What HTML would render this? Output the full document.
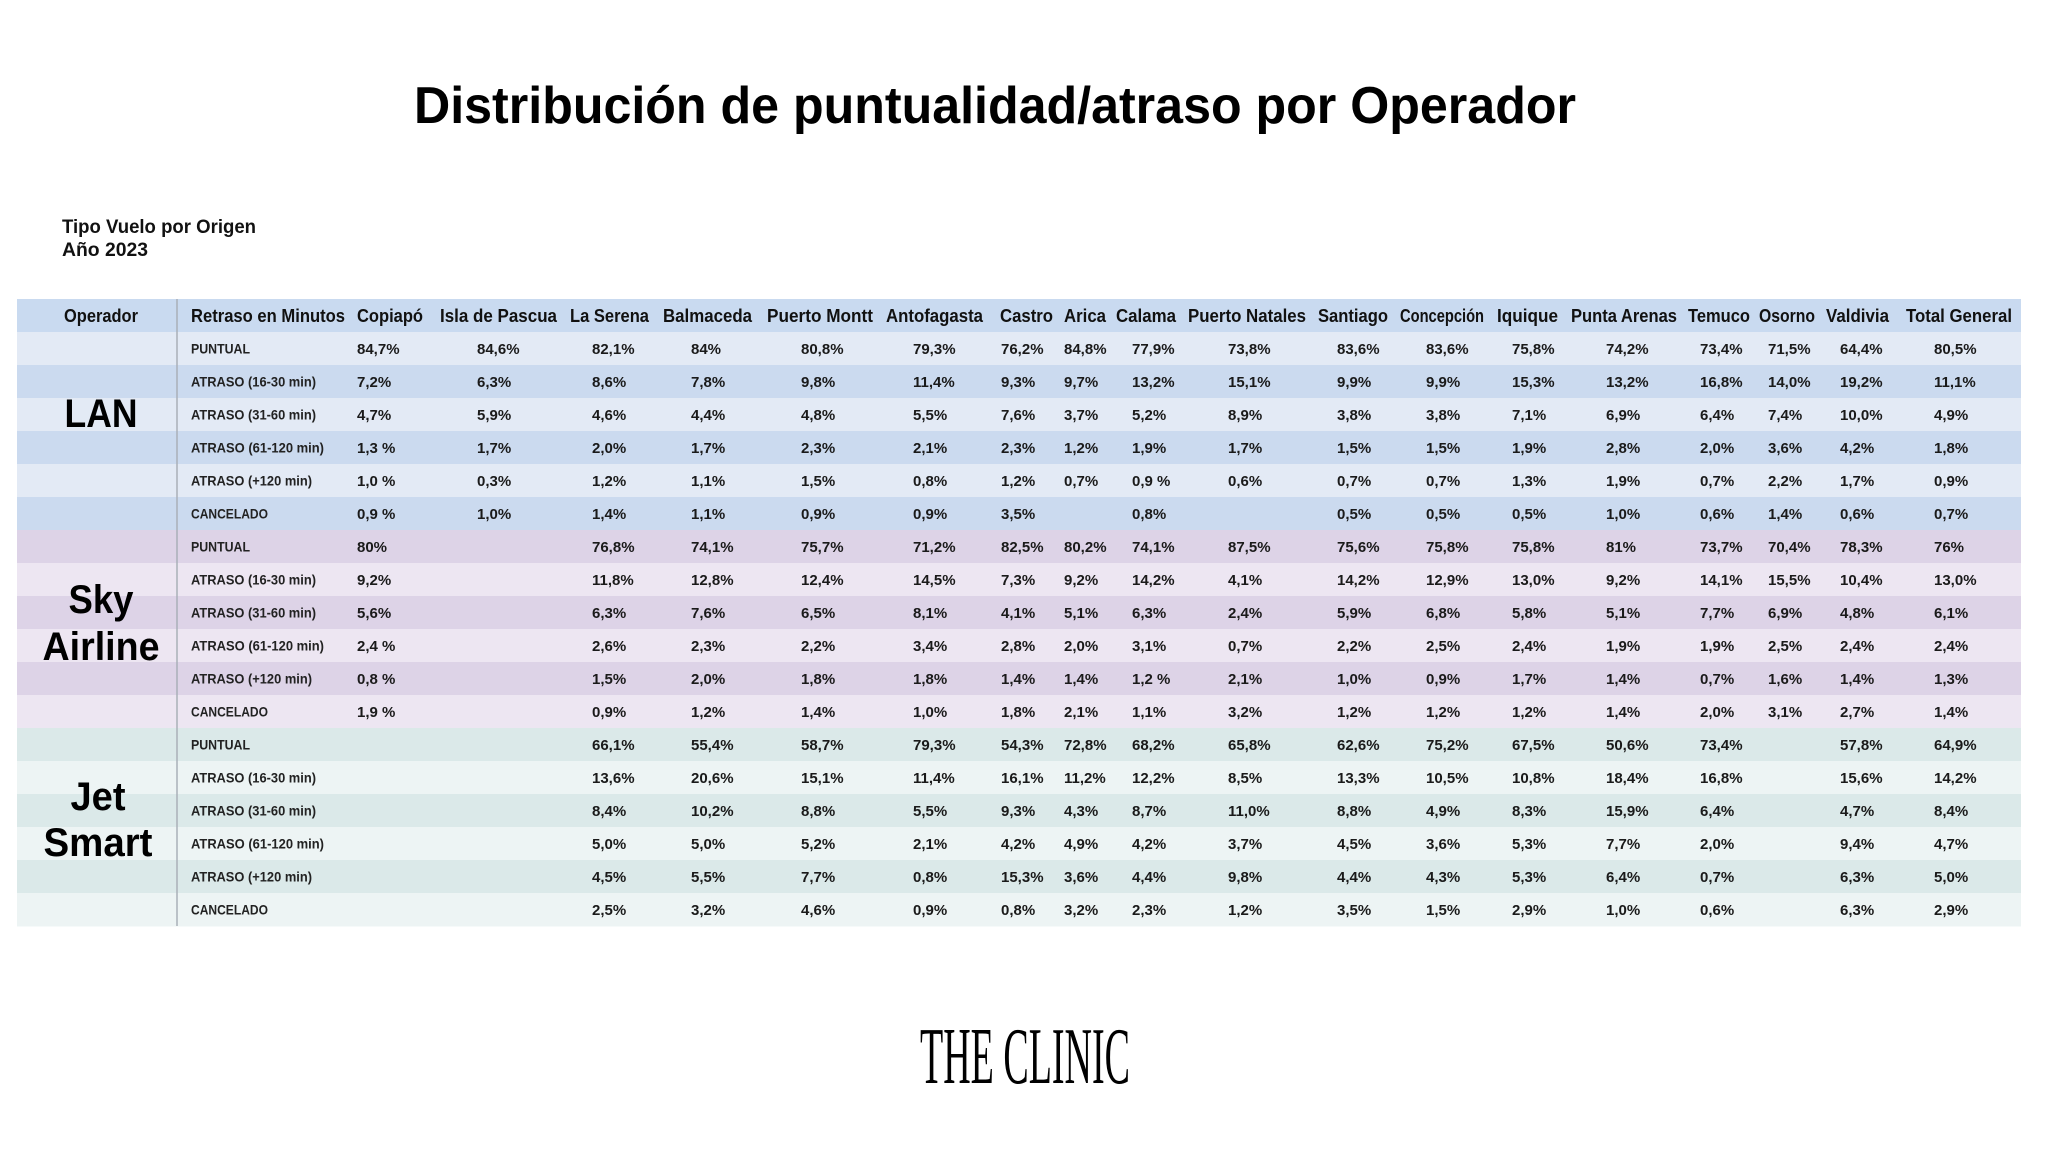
<!DOCTYPE html>
<html><head><meta charset="utf-8"><title>Distribución de puntualidad/atraso por Operador</title>
<style>
html,body{margin:0;padding:0;background:#fff;}
svg{display:block;font-family:"Liberation Sans",sans-serif;}
</style></head>
<body>
<svg id="chart" width="2048" height="1152" viewBox="0 0 2048 1152" xmlns="http://www.w3.org/2000/svg">
<rect x="0" y="0" width="2048" height="1152" fill="#fff"/>
<text x="414" y="123" font-size="52" font-weight="bold" textLength="1162" lengthAdjust="spacingAndGlyphs" fill="#000">Distribución de puntualidad/atraso por Operador</text>
<text x="62" y="233" font-size="19" font-weight="bold" textLength="194" lengthAdjust="spacingAndGlyphs" fill="#111">Tipo Vuelo por Origen</text>
<text x="62" y="256" font-size="19" font-weight="bold" textLength="86" lengthAdjust="spacingAndGlyphs" fill="#111">Año 2023</text>
<g id="table"></g>
<text x="920" y="1083" font-family="Liberation Serif, serif" font-size="80" textLength="210" lengthAdjust="spacingAndGlyphs" fill="#000">THE CLINIC</text>
</svg>
<script>
const columns = ["Copiapó","Isla de Pascua","La Serena","Balmaceda","Puerto Montt","Antofagasta","Castro","Arica","Calama","Puerto Natales","Santiago","Concepción","Iquique","Punta Arenas","Temuco","Osorno","Valdivia","Total General"];
const rowLabels = ["PUNTUAL","ATRASO (16-30 min)","ATRASO (31-60 min)","ATRASO (61-120 min)","ATRASO (+120 min)","CANCELADO"];
const operators = ["LAN","Sky Airline","Jet Smart"];
const lanValues = [
 ["84,7%","84,6%","82,1%","84%","80,8%","79,3%","76,2%","84,8%","77,9%","73,8%","83,6%","83,6%","75,8%","74,2%","73,4%","71,5%","64,4%","80,5%"],
 ["7,2%","6,3%","8,6%","7,8%","9,8%","11,4%","9,3%","9,7%","13,2%","15,1%","9,9%","9,9%","15,3%","13,2%","16,8%","14,0%","19,2%","11,1%"],
 ["4,7%","5,9%","4,6%","4,4%","4,8%","5,5%","7,6%","3,7%","5,2%","8,9%","3,8%","3,8%","7,1%","6,9%","6,4%","7,4%","10,0%","4,9%"],
 ["1,3 %","1,7%","2,0%","1,7%","2,3%","2,1%","2,3%","1,2%","1,9%","1,7%","1,5%","1,5%","1,9%","2,8%","2,0%","3,6%","4,2%","1,8%"],
 ["1,0 %","0,3%","1,2%","1,1%","1,5%","0,8%","1,2%","0,7%","0,9 %","0,6%","0,7%","0,7%","1,3%","1,9%","0,7%","2,2%","1,7%","0,9%"],
 ["0,9 %","1,0%","1,4%","1,1%","0,9%","0,9%","3,5%","","0,8%","","0,5%","0,5%","0,5%","1,0%","0,6%","1,4%","0,6%","0,7%"]
];
const skyValues = [
 ["80%","","76,8%","74,1%","75,7%","71,2%","82,5%","80,2%","74,1%","87,5%","75,6%","75,8%","75,8%","81%","73,7%","70,4%","78,3%","76%"],
 ["9,2%","","11,8%","12,8%","12,4%","14,5%","7,3%","9,2%","14,2%","4,1%","14,2%","12,9%","13,0%","9,2%","14,1%","15,5%","10,4%","13,0%"],
 ["5,6%","","6,3%","7,6%","6,5%","8,1%","4,1%","5,1%","6,3%","2,4%","5,9%","6,8%","5,8%","5,1%","7,7%","6,9%","4,8%","6,1%"],
 ["2,4 %","","2,6%","2,3%","2,2%","3,4%","2,8%","2,0%","3,1%","0,7%","2,2%","2,5%","2,4%","1,9%","1,9%","2,5%","2,4%","2,4%"],
 ["0,8 %","","1,5%","2,0%","1,8%","1,8%","1,4%","1,4%","1,2 %","2,1%","1,0%","0,9%","1,7%","1,4%","0,7%","1,6%","1,4%","1,3%"],
 ["1,9 %","","0,9%","1,2%","1,4%","1,0%","1,8%","2,1%","1,1%","3,2%","1,2%","1,2%","1,2%","1,4%","2,0%","3,1%","2,7%","1,4%"]
];
const jetValues = [
 ["","","66,1%","55,4%","58,7%","79,3%","54,3%","72,8%","68,2%","65,8%","62,6%","75,2%","67,5%","50,6%","73,4%","","57,8%","64,9%"],
 ["","","13,6%","20,6%","15,1%","11,4%","16,1%","11,2%","12,2%","8,5%","13,3%","10,5%","10,8%","18,4%","16,8%","","15,6%","14,2%"],
 ["","","8,4%","10,2%","8,8%","5,5%","9,3%","4,3%","8,7%","11,0%","8,8%","4,9%","8,3%","15,9%","6,4%","","4,7%","8,4%"],
 ["","","5,0%","5,0%","5,2%","2,1%","4,2%","4,9%","4,2%","3,7%","4,5%","3,6%","5,3%","7,7%","2,0%","","9,4%","4,7%"],
 ["","","4,5%","5,5%","7,7%","0,8%","15,3%","3,6%","4,4%","9,8%","4,4%","4,3%","5,3%","6,4%","0,7%","","6,3%","5,0%"],
 ["","","2,5%","3,2%","4,6%","0,9%","0,8%","3,2%","2,3%","1,2%","3,5%","1,5%","2,9%","1,0%","0,6%","","6,3%","2,9%"]
];

// layout (not data)
const NS="http://www.w3.org/2000/svg";
const g=document.getElementById('table');
const L=17,R=2021,TOP=299,HB=332,RH=33.0,DIV=177;
const hdrX=[357,440,570,663,767,886,1000,1064,1116,1188,1318,1400,1497,1571,1688,1759,1826,1906];
const hdrW=[66,117,79,89,106,97,53,42,60,118,70,84,61,106,62,56,63,106];
const valX=[357,477,592,691,801,913,1001,1064,1132,1228,1337,1426,1512,1606,1700,1768,1840,1934];
const labW=[59,125,125,133,121,77];
const palettes=[["#e3eaf5","#cbdaef"],["#ddd3e7","#ede6f2"],["#dbe9e9","#edf4f4"]];
const opLines=[[["LAN",101,427,73]],[["Sky",101,613,65],["Airline",101,660,117]],[["Jet",98,810,55],["Smart",98,856,109]]];
const allValues=[lanValues,skyValues,jetValues];

function mk(tag,attrs){const e=document.createElementNS(NS,tag);for(const k in attrs)e.setAttribute(k,attrs[k]);g.appendChild(e);return e;}

// header
let h=mk('rect',{x:L,y:TOP,width:R-L,height:HB-TOP,fill:"#c9daf0"});


let t=mk('text',{x:101,y:322,'text-anchor':'middle','font-size':18,'font-weight':'bold',textLength:74,lengthAdjust:'spacingAndGlyphs',fill:'#111'});
t.textContent="Operador";


t=mk('text',{x:191,y:322,'font-size':18,'font-weight':'bold',textLength:154,lengthAdjust:'spacingAndGlyphs',fill:'#111'});
t.textContent="Retraso en Minutos";


columns.forEach((c,i)=>{
  const e=mk('text',{x:hdrX[i],y:322,'font-size':18,'font-weight':'bold',textLength:hdrW[i],lengthAdjust:'spacingAndGlyphs',fill:'#111'});
  e.textContent=c;
  
  
});

// body
allValues.forEach((vals,o)=>{
  const y0=HB+o*6*RH;
  rowLabels.forEach((lab,r)=>{
    const y=y0+r*RH;
    const bg=mk('rect',{x:L,y:y,width:R-L,height:RH+0.5,fill:palettes[o][r%2]});
    
    
    const lt=mk('text',{x:191,y:y+RH/2+5,'font-size':14,'font-weight':'bold',textLength:labW[r],lengthAdjust:'spacingAndGlyphs',fill:'#222'});
    lt.textContent=lab;
    
    
    vals[r].forEach((v,c)=>{
      if(!v)return;
      const vt=mk('text',{x:valX[c],y:y+RH/2+5.5,'font-size':15,'font-weight':'bold',fill:'#1a1a1a'});
      vt.textContent=v;
      
      
    });
  });
  opLines[o].forEach(([txt,x,y,w])=>{
    const ot=mk('text',{x:x,y:y,'text-anchor':'middle','font-size':40,'font-weight':'bold',textLength:w,lengthAdjust:'spacingAndGlyphs',fill:'#000'});
    ot.textContent=txt;
    
    
  });
});
const dv=mk('line',{x1:DIV,y1:TOP,x2:DIV,y2:HB+18*RH,stroke:'#a9b0b8','stroke-width':1.5});


</script>
</body></html>
